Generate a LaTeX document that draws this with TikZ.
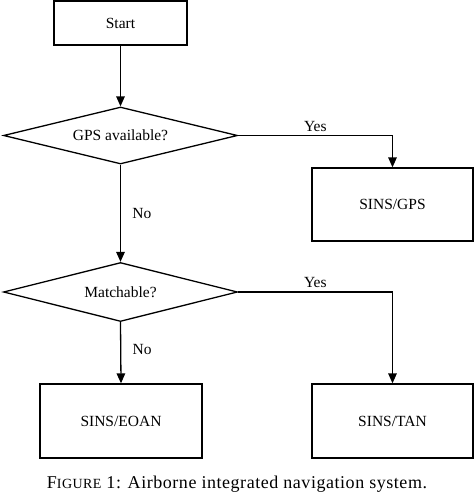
\documentclass[tikz,border=0pt]{standalone}
\usepackage{fontspec}
\setmainfont{Liberation Serif}
\usepackage{tikz}
\usetikzlibrary{positioning,arrows.meta,shapes.geometric}
\tikzset{every picture/.style={line width=1.3pt}}

\begin{document}
\begin{tikzpicture}[x=1pt,y=-1pt,
  box/.style={draw,rectangle,inner sep=0pt,font=\fontsize{15.5}{17}\selectfont},
  test/.style={draw,diamond,aspect=4,inner sep=0pt,font=\fontsize{15.5}{17}\selectfont},
  arr/.style={-{Triangle[length=10pt,width=8.5pt]}},
  lab/.style={font=\fontsize{15.5}{17}\selectfont}]
\useasboundingbox (0,0) rectangle (474,493);
\node[box,minimum width=133pt,minimum height=44pt] (start) at (120.5,23) {Start};
\node[test,minimum width=234pt,minimum height=57pt] (gps) at (120.5,135.5) {GPS available?};
\node[box,minimum width=161pt,minimum height=73pt] (sgps) at (392.5,204.5) {SINS/GPS};
%
\node[test,minimum width=234pt,minimum height=59pt] (match) at (120.5,292) {Matchable?};
\node[box,minimum width=162pt,minimum height=74pt] (eoan) at (121,421) {SINS/EOAN};
\node[box,minimum width=161pt,minimum height=74pt] (tan) at (392.5,421) {SINS/TAN};
%
\draw[arr] (start) -- (gps);
\draw[arr] (gps.east) -| node[lab,pos=0.25,above] {Yes} (sgps.north);
\draw[arr] (gps.south) -- node[lab,right=8pt] {No} (match.north);
\draw[arr] (match.east) -| node[lab,pos=0.25,above] {Yes} (tan.north);
\draw[arr] (match.south) -- node[lab,right=8pt,pos=0.45] {No} (eoan.north);
%
\node[font=\fontsize{18}{20}\selectfont\addfontfeature{LetterSpace=3}] (cap) at (237,484)
  {F{\fontsize{14}{16}\selectfont IGURE} 1: Airborne integrated navigation system.};
\end{tikzpicture}
\end{document}
